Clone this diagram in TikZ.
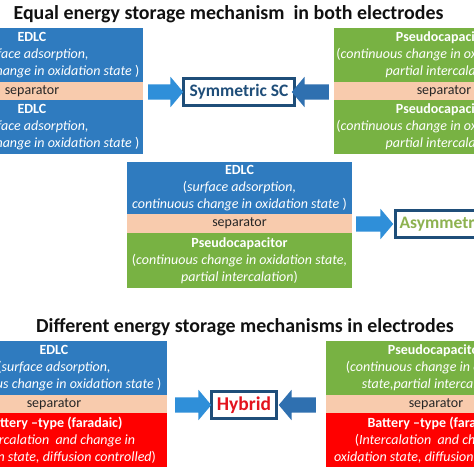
\documentclass[tikz,border=0pt]{standalone}
\usepackage{fontspec}
\setmainfont{Carlito}
\usetikzlibrary{shapes.arrows}
\definecolor{cblue}{HTML}{2F7BBF}
\definecolor{cgreen}{HTML}{78B243}
\definecolor{cpeach}{HTML}{F8CBAD}
\definecolor{cred}{HTML}{FF0000}
\definecolor{carrowL}{HTML}{2F8FD9}
\definecolor{carrowD}{HTML}{2F70B0}
\definecolor{cnavy}{HTML}{1F4E79}
\definecolor{ctitle}{HTML}{111111}
\definecolor{csep}{HTML}{262626}
\definecolor{casym}{HTML}{8DB250}
\definecolor{chyb}{HTML}{E3141E}
\tikzset{
  band/.style={rectangle, inner sep=0pt, align=center, text=white,
    font=\fontsize{14}{16.8}\selectfont},
  blueband/.style={band, fill=cblue},
  greenband/.style={band, fill=cgreen},
  redband/.style={band, fill=cred},
  sepband/.style={band, fill=cpeach, text=csep},
  titletext/.style={inner sep=0pt, text=ctitle, font=\bfseries\fontsize{19.9}{22}\selectfont},
  resultbox/.style={rectangle, draw=cnavy, line width=3pt, fill=white, inner sep=0pt,
    minimum height=27pt, font=\bfseries\fontsize{17.5}{20}\selectfont},
  blockarrow/.style={single arrow, inner xsep=0pt, inner ysep=7.5pt,
    single arrow head extend=7.5pt, single arrow tip angle=100},
}
\begin{document}
\begin{tikzpicture}[x=1pt,y=-1pt]
\useasboundingbox (0,0) rectangle (474,474);
\fill[white] (0,0) rectangle (474,474);
\clip (0,0) rectangle (474,474);

% ---------- top ----------
\node[titletext] (t1) at (228.5,14) {Equal energy storage mechanism\ \ in both electrodes};

\node[blueband, minimum width=222pt, minimum height=54pt] (tl1) at (32,55)
  {\textbf{EDLC}\\(\textit{surface adsorption,}\\\textit{continuous change in oxidation state} )};
\node[sepband, minimum width=222pt, minimum height=18pt] (tl2) at (32,91) {separator};
\node[blueband, minimum width=222pt, minimum height=54pt] (tl3) at (32,127)
  {\textbf{EDLC}\\(\textit{surface adsorption,}\\\textit{continuous change in oxidation state} )};

\node[greenband, minimum width=220pt, minimum height=54pt] (tr1) at (444,55)
  {\textbf{Pseudocapacitor}\\(\textit{continuous change in oxidation state,}\\\textit{partial intercalation})};
\node[sepband, minimum width=220pt, minimum height=18pt] (tr2) at (444,91) {separator};
\node[greenband, minimum width=220pt, minimum height=54pt] (tr3) at (444,127)
  {\textbf{Pseudocapacitor}\\(\textit{continuous change in oxidation state,}\\\textit{partial intercalation})};

\node[resultbox, minimum width=111pt, text=cnavy] (sym) at (239,92) {Symmetric SC};
\node[blockarrow, fill=carrowL, minimum height=35pt] (a1) at (162.5,92) {};
\node[blockarrow, fill=carrowD, minimum height=37pt, shape border rotate=180] (a2) at (313.5,92) {};

% ---------- middle ----------
\node[blueband, minimum width=225pt, minimum height=52pt] (m1) at (239.5,188)
  {\textbf{EDLC}\\(\textit{surface adsorption,}\\\textit{continuous change in oxidation state} )};
\node[sepband, minimum width=225pt, minimum height=19pt] (m2) at (239.5,223.5) {separator};
\node[greenband, minimum width=225pt, minimum height=55pt] (m3) at (239.5,260.5)
  {\textbf{Pseudocapacitor}\\(\textit{continuous change in oxidation state,}\\\textit{partial intercalation})};

\node[blockarrow, fill=carrowL, minimum height=37pt] (a3) at (371.5,224) {};
\node[resultbox, anchor=west, inner xsep=4.5pt, text=casym] (asym) at (393.5,223.5) {Asymmetric SC};

% ---------- bottom ----------
\node[titletext] (t2) at (245,327) {Different energy storage mechanisms in electrodes};

\node[blueband, minimum width=226pt, minimum height=54pt] (bl1) at (54,368)
  {\textbf{EDLC}\\(\textit{surface adsorption,}\\\textit{continuous change in oxidation state} )};
\node[sepband, minimum width=226pt, minimum height=18pt] (bl2) at (54,404) {separator};
\node[redband, minimum width=226pt, minimum height=54pt] (bl3) at (54,440)
  {\textbf{Battery –type (faradaic)}\\(\textit{Intercalation\ \ and change in}\\\textit{oxidation state, diffusion controlled})};

\node[greenband, minimum width=220pt, minimum height=54pt] (br1) at (436,368)
  {\textbf{Pseudocapacitor}\\(\textit{continuous change in oxidation}\\\textit{state,partial intercalation})};
\node[sepband, minimum width=220pt, minimum height=18pt] (br2) at (436,404) {separator};
\node[redband, minimum width=220pt, minimum height=54pt] (br3) at (436,440)
  {\textbf{Battery –type (faradaic)}\\(\textit{Intercalation\ \ and change in}\\\textit{oxidation state, diffusion controlled})};

\node[resultbox, minimum width=65pt, text=chyb, font=\bfseries\fontsize{19.5}{21}\selectfont] (hyb) at (244,405) {Hybrid};
\node[blockarrow, fill=carrowL, minimum height=36pt] (a4) at (190,405) {};
\node[blockarrow, fill=carrowD, minimum height=37pt, shape border rotate=180] (a5) at (300.5,405) {};
\end{tikzpicture}
\end{document}
